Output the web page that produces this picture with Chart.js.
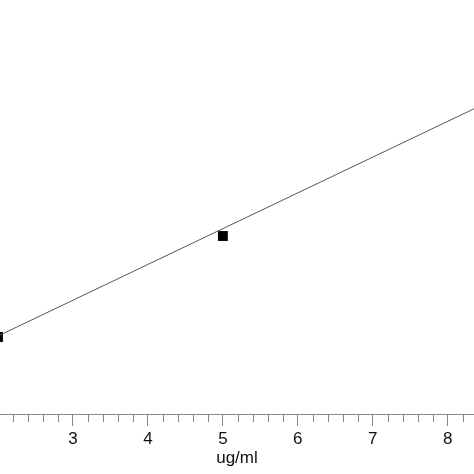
<!DOCTYPE html>
<html>
<head>
<meta charset="utf-8">
<script src="https://cdn.jsdelivr.net/npm/chart.js@4/dist/chart.umd.min.js"></script>
<style>
  html, body { margin: 0; padding: 0; background: #fff; }
  #wrap { width: 474px; height: 474px; }
</style>
</head>
<body>
<div id="wrap"><canvas id="myChart"></canvas></div>
<script>
// measured points (ug/ml vs signal)
const concX = [2, 5];
const signalY = [0.154, 0.356];
// fitted line, read at the ends of the visible range
const fitX = [2, 8.4];
const fitY = [0.156, 0.614];
const xTicks = [3, 4, 5, 6, 7, 8];
const minorStep = 0.2;

// minor ticks between the labelled ones
const minorTicks = {
    id: 'minorTicks',
    afterDraw(chart) {
        const sx = chart.scales.x;
        const c = chart.ctx;
        const y0 = chart.chartArea.bottom;
        c.save();
        c.strokeStyle = '#888';
        c.lineWidth = 1;
        for (let v = Math.ceil(sx.min / minorStep) * minorStep; v <= sx.max; v += minorStep) {
            if (Math.abs(v - Math.round(v)) < 1e-6) continue;
            const px = Math.round(sx.getPixelForValue(v)) + 0.5;
            c.beginPath();
            c.moveTo(px, y0);
            c.lineTo(px, y0 + 8);
            c.stroke();
        }
        c.restore();
    }
};

const ctx = document.getElementById('myChart');
const myChart = new Chart(ctx, {
    type: 'scatter',
    data: {
        datasets: [{
                label: 'fit',
                data: fitX.map((x, i) => ({ x: x, y: fitY[i] })),
                showLine: true,
                borderColor: '#555',
                borderWidth: 1,
                pointRadius: 0,
                fill: false
            },
            {
                label: 'data',
                data: concX.map((x, i) => ({ x: x, y: signalY[i] })),
                pointStyle: 'rect',
                pointRadius: 7,
                pointBorderWidth: 0,
                backgroundColor: '#000',
                borderColor: '#000'
            }
        ]
    },
    options: {
        responsive: true,
        maintainAspectRatio: false,
        animation: false,
        layout: { padding: 0, autoPadding: false },
        plugins: {
            legend: { display: false },
            tooltip: { enabled: false }
        },
        scales: {
            x: {
                type: 'linear',
                min: 2.027,
                max: 8.35,
                afterFit: s => { s.height = 60; s.paddingLeft = 0; s.paddingRight = 0; },
                afterBuildTicks: s => { s.ticks = xTicks.map(v => ({ value: v })); },
                border: { display: true, color: '#888', width: 1 },
                grid: {
                    drawOnChartArea: false,
                    drawTicks: true,
                    tickLength: 12,
                    tickColor: '#888'
                },
                ticks: {
                    padding: 3,
                    color: '#111',
                    font: { family: 'Liberation Sans', size: 17 }
                },
                title: {
                    display: true,
                    text: 'ug/ml',
                    color: '#111',
                    font: { family: 'Liberation Sans', size: 17 },
                    padding: { top: 0, bottom: 5 }
                }
            },
            y: {
                display: false,
                min: 0,
                max: 0.828
            }
        }
    },
    plugins: [minorTicks]
});
</script>
</body>
</html>
